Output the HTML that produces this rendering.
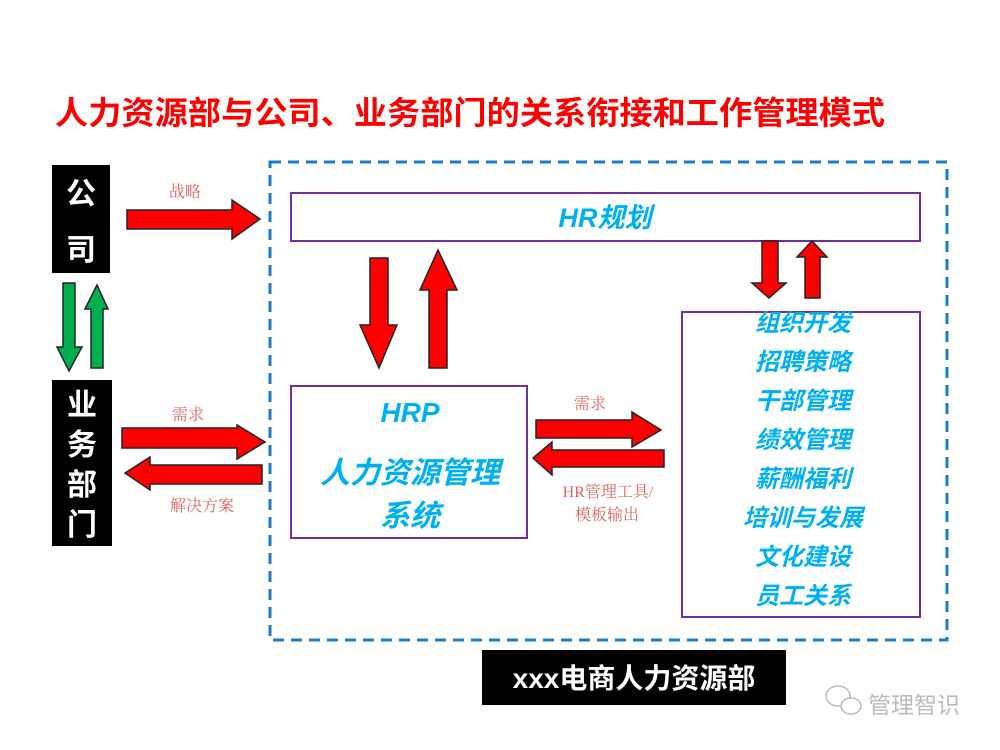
<!DOCTYPE html>
<html><head><meta charset="utf-8"><style>
html,body{margin:0;padding:0;background:#fff;width:1000px;height:750px;overflow:hidden}
svg text{font-family:"Liberation Sans","Noto Sans CJK SC",sans-serif}
.lbl{fill:#d9665f;font-family:"Liberation Serif","Noto Serif CJK SC",serif;font-size:16px}
.it{fill:#00b0f0;font-weight:bold;font-style:italic}
.ra{fill:#ff0000;stroke:#222;stroke-width:1.5}
.ga{fill:#00b050;stroke:#222;stroke-width:1.5}
</style></head><body>
<svg width="1000" height="750" viewBox="0 0 1000 750" xmlns="http://www.w3.org/2000/svg">
<text x="55" y="124" font-size="32" font-weight="bold" fill="#ff0000" textLength="830" lengthAdjust="spacingAndGlyphs">人力资源部与公司、业务部门的关系衔接和工作管理模式</text>

<!-- left boxes -->
<rect x="52" y="165" width="58" height="108" fill="#000"/>
<text x="81" y="204" font-size="30" font-weight="bold" fill="#fff" text-anchor="middle">公</text>
<text x="81" y="260" font-size="30" font-weight="bold" fill="#fff" text-anchor="middle">司</text>
<rect x="52" y="380" width="60" height="166" fill="#000"/>
<text x="82" y="415" font-size="30" font-weight="bold" fill="#fff" text-anchor="middle">业</text>
<text x="82" y="455" font-size="30" font-weight="bold" fill="#fff" text-anchor="middle">务</text>
<text x="82" y="495" font-size="30" font-weight="bold" fill="#fff" text-anchor="middle">部</text>
<text x="82" y="535" font-size="30" font-weight="bold" fill="#fff" text-anchor="middle">门</text>

<!-- green arrows -->
<polygon class="ga" points="63,283 75,283 75,347 82,347 69,371 57,347 63,347"/>
<polygon class="ga" points="91,368 103,368 103,309 108,309 97,285 85,309 91,309"/>

<!-- strategy arrow -->
<polygon class="ra" points="127,210 232,210 232,200 260,219 232,239 232,229 127,229"/>
<text class="lbl" x="185" y="197" text-anchor="middle">战略</text>

<!-- demand / solution -->
<polygon class="ra" points="122,428 237,428 237,425 265,442 237,459 237,448 122,448"/>
<polygon class="ra" points="262,465 150,465 150,457 125,473 150,490 150,484 262,484"/>
<text class="lbl" x="188" y="420" text-anchor="middle">需求</text>
<text class="lbl" x="202" y="511" text-anchor="middle">解决方案</text>

<!-- dashed container -->
<rect x="270" y="162" width="677" height="478" fill="none" stroke="#1a7cc8" stroke-width="3" stroke-dasharray="11 7"/>

<!-- HR plan -->
<rect x="291" y="193" width="629" height="48" fill="#fff" stroke="#7030a0" stroke-width="2"/>
<text class="it" x="605" y="227" font-size="27" text-anchor="middle">HR规划</text>

<!-- vertical arrows middle -->
<polygon class="ra" points="370,258 388,258 388,325 397,325 379,368 360,325 370,325"/>
<polygon class="ra" points="429,368 447,368 447,290 457,290 438,250 420,290 429,290"/>

<!-- HRP -->
<rect x="291" y="386" width="236" height="152" fill="#fff" stroke="#7030a0" stroke-width="2"/>
<text class="it" x="410" y="422" font-size="28" text-anchor="middle">HRP</text>
<text class="it" x="410" y="483" font-size="30" text-anchor="middle">人力资源管理</text>
<text class="it" x="410" y="526" font-size="30" text-anchor="middle">系统</text>

<!-- middle arrows -->
<polygon class="ra" points="536,420 632,420 632,412 661,430 632,447 632,438 536,438"/>
<polygon class="ra" points="664,450 552,450 552,442 533,458 552,475 552,467 664,467"/>
<text class="lbl" x="590" y="409" text-anchor="middle">需求</text>
<text class="lbl" x="608" y="497" text-anchor="middle">HR管理工具/</text>
<text class="lbl" x="607" y="520" text-anchor="middle">模板输出</text>

<!-- right arrows -->
<polygon class="ra" points="762,241 778,241 778,283 786,283 769,298 752,283 762,283"/>
<polygon class="ra" points="805,298 820,298 820,257 827,257 812,241 797,257 805,257"/>

<!-- right box -->
<rect x="682" y="312" width="238" height="305" fill="#fff" stroke="#7030a0" stroke-width="2"/>
<g class="it" font-size="24" text-anchor="middle">
<text x="803" y="331">组织开发</text>
<text x="803" y="370">招聘策略</text>
<text x="803" y="409">干部管理</text>
<text x="803" y="448">绩效管理</text>
<text x="803" y="487">薪酬福利</text>
<text x="803" y="526">培训与发展</text>
<text x="803" y="565">文化建设</text>
<text x="803" y="604">员工关系</text>
</g>

<!-- bottom label -->
<rect x="482" y="650" width="304" height="55" fill="#000"/>
<text x="634" y="688" font-size="28" font-weight="bold" fill="#fff" text-anchor="middle">xxx电商人力资源部</text>

<!-- watermark -->
<g fill="none" stroke="#bbb" stroke-width="1.5">
<ellipse cx="838" cy="696" rx="12" ry="10"/>
<ellipse cx="851" cy="706" rx="10" ry="8" fill="#fff"/>
</g>
<text x="868" y="713" font-size="23" fill="#bbb">管理智识</text>
</svg>
</body></html>
